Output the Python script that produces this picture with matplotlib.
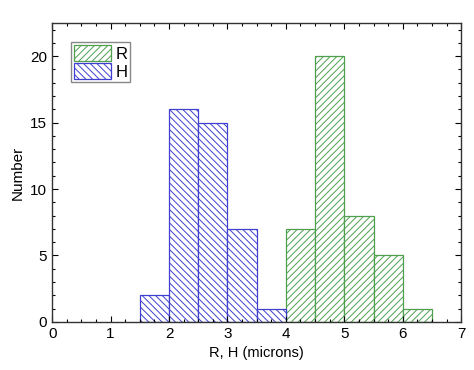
import matplotlib
matplotlib.use("Agg")
import matplotlib.pyplot as plt
import numpy as np
from matplotlib.ticker import MultipleLocator

plt.rcParams['font.family'] = ['Liberation Sans', 'DejaVu Sans']
plt.rcParams['hatch.linewidth'] = 0.7

bin_width = 0.5
h_left = [1.5, 2.0, 2.5, 3.0, 3.5]
h_counts = [2, 16, 15, 7, 1]
r_left = [4.0, 4.5, 5.0, 5.5, 6.0]
r_counts = [7, 20, 8, 5, 1]

green = '#4f9f4f'
blue = '#4040d0'

fig = plt.figure(figsize=(4.74, 3.70), dpi=100)
ax = fig.add_axes([0.110, 0.130, 0.863, 0.808])

ax.bar(r_left, r_counts, width=bin_width, align='edge', facecolor='white',
       edgecolor=green, hatch='/////', linewidth=0.9, label='R')
ax.bar(h_left, h_counts, width=bin_width, align='edge', facecolor='white',
       edgecolor=blue, hatch='\\\\\\\\\\', linewidth=0.9, label='H')

ax.set_xlim(0, 7)
ax.set_ylim(0, 22.5)
ax.xaxis.set_major_locator(MultipleLocator(1))
ax.xaxis.set_minor_locator(MultipleLocator(0.25))
ax.yaxis.set_major_locator(MultipleLocator(5))
ax.yaxis.set_minor_locator(MultipleLocator(1))
ax.tick_params(which='both', direction='in', top=True, right=True, labelsize=11)
ax.tick_params(which='major', length=4, width=0.8)
ax.tick_params(which='minor', length=2, width=0.8)
for s in ax.spines.values():
    s.set_linewidth(1.0)
    s.set_color('#333333')

ax.set_xlabel('R, H (microns)', fontsize=10.5)
ax.set_ylabel('Number', fontsize=11)

leg = ax.legend(loc='upper left', bbox_to_anchor=(0.047, 0.935), fontsize=12,
                handlelength=2.2, handleheight=1.1, handletextpad=0.3,
                labelspacing=0.1, borderpad=0.15, borderaxespad=0,
                fancybox=False, framealpha=1)
leg.get_frame().set_edgecolor('#888888')
leg.get_frame().set_linewidth(1.0)

fig.savefig('out.png', dpi=100)
